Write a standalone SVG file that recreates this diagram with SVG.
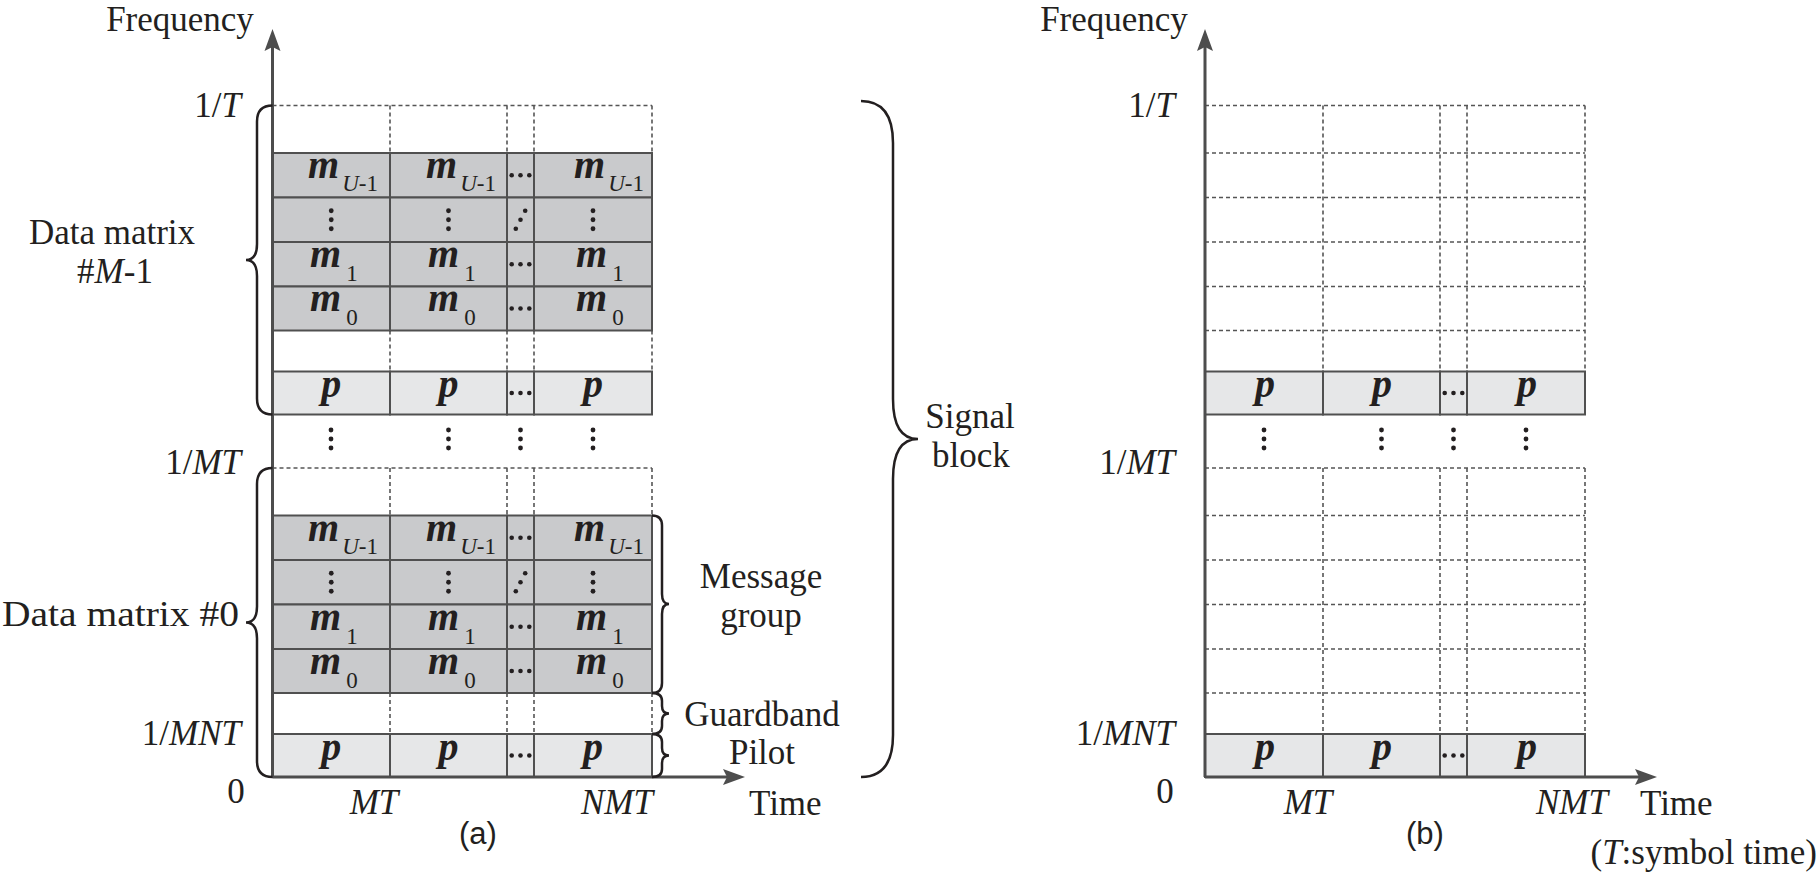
<svg xmlns="http://www.w3.org/2000/svg" width="1820" height="878" viewBox="0 0 1820 878">
<style>
text{font-family:"Liberation Serif","Times New Roman",serif;fill:#231f20}
.lbl{font-size:35px}
.i{font-style:italic}
.mb{font-size:40px;font-weight:bold;font-style:italic}
.sub{font-size:23px;font-weight:normal;font-style:normal}
.cap{font-family:"Liberation Sans",Arial,sans-serif;font-size:31px}
.ax{stroke:#4d4d4d;stroke-width:3;fill:none}
.axh{fill:#4d4d4d}
.dash{stroke:#555;stroke-width:1.6;stroke-dasharray:4 3;fill:none}
.cell{fill:#c9cacc;stroke:#505050;stroke-width:2}
.pil{fill:#e6e7e8;stroke:#505050;stroke-width:2}
.brace{fill:none;stroke:#231f20;stroke-width:2.5}
.dot{fill:#231f20}
</style>
<defs>
<g id="hdots"><circle class="dot" cx="-8.8" cy="0" r="2.3"/><circle class="dot" cx="0" cy="0" r="2.3"/><circle class="dot" cx="8.8" cy="0" r="2.3"/></g>
<g id="vdots"><circle class="dot" cx="0" cy="-9" r="2.4"/><circle class="dot" cx="0" cy="0" r="2.4"/><circle class="dot" cx="0" cy="9" r="2.4"/></g>
<g id="ddots"><circle class="dot" cx="4.7" cy="-9" r="2.3"/><circle class="dot" cx="0" cy="0" r="2.3"/><circle class="dot" cx="-4.7" cy="9" r="2.3"/></g>
<g id="blockA">
<path class="dash" d="M272.5,105.5H652M390,105.5V153M507,105.5V153M534,105.5V153M652,105.5V153M390,330.5V371.5M507,330.5V371.5M534,330.5V371.5M652,330.5V371.5"/>
<rect class="cell" x="272.5" y="153" width="117.5" height="44.5"/><rect class="cell" x="390" y="153" width="117" height="44.5"/><rect class="cell" x="507" y="153" width="27" height="44.5"/><rect class="cell" x="534" y="153" width="118" height="44.5"/>
<rect class="cell" x="272.5" y="197.5" width="117.5" height="44.5"/><rect class="cell" x="390" y="197.5" width="117" height="44.5"/><rect class="cell" x="507" y="197.5" width="27" height="44.5"/><rect class="cell" x="534" y="197.5" width="118" height="44.5"/>
<rect class="cell" x="272.5" y="242" width="117.5" height="44.5"/><rect class="cell" x="390" y="242" width="117" height="44.5"/><rect class="cell" x="507" y="242" width="27" height="44.5"/><rect class="cell" x="534" y="242" width="118" height="44.5"/>
<rect class="cell" x="272.5" y="286.5" width="117.5" height="44"/><rect class="cell" x="390" y="286.5" width="117" height="44"/><rect class="cell" x="507" y="286.5" width="27" height="44"/><rect class="cell" x="534" y="286.5" width="118" height="44"/>
<rect class="pil" x="272.5" y="371.5" width="117.5" height="43"/><rect class="pil" x="390" y="371.5" width="117" height="43"/><rect class="pil" x="507" y="371.5" width="27" height="43"/><rect class="pil" x="534" y="371.5" width="118" height="43"/>
<text x="308" y="178"><tspan class="mb">m</tspan><tspan class="sub" dx="3" dy="13"><tspan class="i">U</tspan>-1</tspan></text>
<text x="426" y="178"><tspan class="mb">m</tspan><tspan class="sub" dx="3" dy="13"><tspan class="i">U</tspan>-1</tspan></text>
<text x="574" y="178"><tspan class="mb">m</tspan><tspan class="sub" dx="3" dy="13"><tspan class="i">U</tspan>-1</tspan></text>
<text x="310" y="267"><tspan class="mb">m</tspan><tspan class="sub" dx="5" dy="14">1</tspan></text>
<text x="428" y="267"><tspan class="mb">m</tspan><tspan class="sub" dx="5" dy="14">1</tspan></text>
<text x="576" y="267"><tspan class="mb">m</tspan><tspan class="sub" dx="5" dy="14">1</tspan></text>
<text x="310" y="311"><tspan class="mb">m</tspan><tspan class="sub" dx="5" dy="14">0</tspan></text>
<text x="428" y="311"><tspan class="mb">m</tspan><tspan class="sub" dx="5" dy="14">0</tspan></text>
<text x="576" y="311"><tspan class="mb">m</tspan><tspan class="sub" dx="5" dy="14">0</tspan></text>
<text class="mb" x="331.25" y="397" text-anchor="middle">p</text>
<text class="mb" x="448.5" y="397" text-anchor="middle">p</text>
<text class="mb" x="593" y="397" text-anchor="middle">p</text>
<use href="#hdots" x="520.5" y="175.25"/><use href="#hdots" x="520.5" y="264.25"/><use href="#hdots" x="520.5" y="308.5"/><use href="#hdots" x="520.5" y="393"/>
<use href="#vdots" x="331.25" y="219.75"/><use href="#vdots" x="448.5" y="219.75"/><use href="#vdots" x="593" y="219.75"/><use href="#ddots" x="520.5" y="219.75"/>
</g>
<g id="blockB">
<path class="dash" d="M1205,105.5H1585M1205,153H1585M1205,197.5H1585M1205,242H1585M1205,286.5H1585M1205,330.5H1585M1323,105.5V371.5M1440,105.5V371.5M1467,105.5V371.5M1585,105.5V371.5"/>
<rect class="pil" x="1205" y="371.5" width="118" height="43"/><rect class="pil" x="1323" y="371.5" width="117" height="43"/><rect class="pil" x="1440" y="371.5" width="27" height="43"/><rect class="pil" x="1467" y="371.5" width="118" height="43"/>
<text class="mb" x="1265" y="397" text-anchor="middle">p</text>
<text class="mb" x="1382" y="397" text-anchor="middle">p</text>
<text class="mb" x="1527" y="397" text-anchor="middle">p</text>
<use href="#hdots" x="1453.5" y="393"/>
</g>
</defs>

<g id="panel-a">
<g id="data-matrix-M-1"><use href="#blockA"/></g>
<g id="data-matrix-0"><use href="#blockA" transform="translate(0,362.5)"/></g>
<g id="gap-dots-a"><use href="#vdots" x="331" y="439"/><use href="#vdots" x="448.5" y="439"/><use href="#vdots" x="520.5" y="439"/><use href="#vdots" x="593" y="439"/></g>
<g id="axes-a">
<path class="ax" d="M272.5,777V45M272.5,777H733"/>
<path class="axh" d="M272.5,29L280.5,51L272.5,47L264.5,51Z"/>
<path class="axh" d="M745,777L723,769L727,777L723,785Z"/>
</g>
<g id="braces-a">
<path class="brace" d="M272.5,105.5Q257,105.5 257,121.5L257,244Q257,260 246,260Q257,260 257,276L257,398.5Q257,414.5 272.5,414.5"/>
<path class="brace" d="M272.5,468Q257,468 257,484L257,606.5Q257,622.5 246,622.5Q257,622.5 257,638.5L257,761Q257,777 272.5,777"/>
<path class="brace" d="M652,515.5Q662,515.5 662,525.5L662,594Q662,604 669,604Q662,604 662,614L662,683Q662,693 652,693"/>
<path class="brace" d="M652,693Q662,693 662,701L662,706Q662,713.5 669,713.5Q662,713.5 662,721L662,726Q662,734 652,734"/>
<path class="brace" d="M652,734Q662,734 662,742L662,748Q662,755.5 669,755.5Q662,755.5 662,763L662,769Q662,777 652,777"/>
<path class="brace" d="M861,101Q893,101 893,143L893,399Q893,439 918,439Q893,439 893,479L893,735Q893,777 861,777"/>
</g>
<g id="labels-a">
<text class="lbl" x="180" y="31" text-anchor="middle" font-size="34">Frequency</text>
<text class="lbl" x="241" y="117" text-anchor="end">1/<tspan class="i">T</tspan></text>
<text class="lbl" x="241" y="474" text-anchor="end">1/<tspan class="i">MT</tspan></text>
<text class="lbl" x="241" y="745" text-anchor="end">1/<tspan class="i">MNT</tspan></text>
<text class="lbl" x="236" y="803" text-anchor="middle">0</text>
<text class="lbl i" x="374" y="814" text-anchor="middle" font-size="36">MT</text>
<text class="lbl i" x="617" y="814" text-anchor="middle" font-size="36">NMT</text>
<text class="lbl" x="749" y="815" font-size="38">Time</text>
<text class="lbl" x="112" y="244" text-anchor="middle" font-size="36">Data matrix</text>
<text class="lbl" x="115" y="283" text-anchor="middle" font-size="36">#<tspan class="i">M</tspan>-1</text>
<text class="lbl" x="2" y="626" font-size="36" textLength="237" lengthAdjust="spacingAndGlyphs">Data matrix #0</text>
<text class="lbl" x="761" y="588" text-anchor="middle">Message</text>
<text class="lbl" x="761" y="627" text-anchor="middle">group</text>
<text class="lbl" x="762" y="726" text-anchor="middle">Guardband</text>
<text class="lbl" x="762" y="764" text-anchor="middle">Pilot</text>
<text class="lbl" x="970" y="428" text-anchor="middle">Signal</text>
<text class="lbl" x="971" y="467" text-anchor="middle">block</text>
<text class="cap" x="478" y="844" text-anchor="middle">(a)</text>
</g>
</g>

<g id="panel-b">
<g id="upper-block-b"><use href="#blockB"/></g>
<g id="lower-block-b"><use href="#blockB" transform="translate(0,362.5)"/></g>
<g id="gap-dots-b"><use href="#vdots" x="1264" y="439"/><use href="#vdots" x="1381.5" y="439"/><use href="#vdots" x="1453.5" y="439"/><use href="#vdots" x="1526" y="439"/></g>
<g id="axes-b">
<path class="ax" d="M1205,777V45M1205,777H1645"/>
<path class="axh" d="M1205,29L1213,51L1205,47L1197,51Z"/>
<path class="axh" d="M1657,777L1635,769L1639,777L1635,785Z"/>
</g>
<g id="labels-b">
<text class="lbl" x="1114" y="31" text-anchor="middle" font-size="34">Frequency</text>
<text class="lbl" x="1175" y="117" text-anchor="end">1/<tspan class="i">T</tspan></text>
<text class="lbl" x="1175" y="474" text-anchor="end">1/<tspan class="i">MT</tspan></text>
<text class="lbl" x="1175" y="745" text-anchor="end">1/<tspan class="i">MNT</tspan></text>
<text class="lbl" x="1165" y="803" text-anchor="middle">0</text>
<text class="lbl i" x="1308" y="814" text-anchor="middle" font-size="36">MT</text>
<text class="lbl i" x="1572" y="814" text-anchor="middle" font-size="36">NMT</text>
<text class="lbl" x="1640" y="815" font-size="38">Time</text>
<text class="cap" x="1425" y="844" text-anchor="middle">(b)</text>
<text class="lbl" x="1817" y="864" text-anchor="end" font-size="36.5">(<tspan class="i">T</tspan>:symbol time)</text>
</g>
</g>
</svg>
